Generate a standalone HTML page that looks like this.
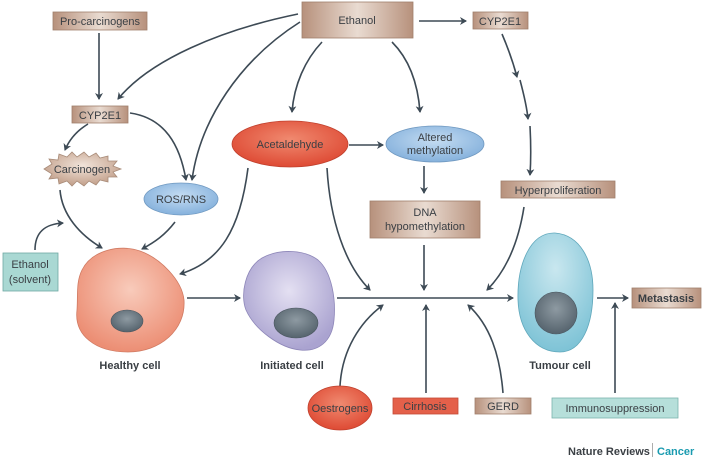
<!DOCTYPE html>
<html><head><meta charset="utf-8"><style>
html,body{margin:0;padding:0;background:#fff;}
svg{display:block;font-family:"Liberation Sans",sans-serif;}
text{fill:#3a3f44;font-size:11px;}
</style></head><body>
<svg width="705" height="462" viewBox="0 0 705 462" xmlns="http://www.w3.org/2000/svg">
<defs>
<linearGradient id="bx" x1="0" x2="1" y1="0" y2="0"><stop offset="0" stop-color="#b7917c"/><stop offset="0.5" stop-color="#e9dbd1"/><stop offset="1" stop-color="#b7917c"/></linearGradient>
<radialGradient id="red" cx="0.5" cy="0.4" r="0.6"><stop offset="0" stop-color="#f08a70"/><stop offset="1" stop-color="#de4a34"/></radialGradient>
<radialGradient id="blue" cx="0.5" cy="0.4" r="0.6"><stop offset="0" stop-color="#c4dcf2"/><stop offset="1" stop-color="#85b1dc"/></radialGradient>
<radialGradient id="pink" cx="0.5" cy="0.4" r="0.6"><stop offset="0" stop-color="#f8cbbb"/><stop offset="1" stop-color="#ec8e74"/></radialGradient>
<radialGradient id="lav" cx="0.5" cy="0.4" r="0.6"><stop offset="0" stop-color="#e4e0f2"/><stop offset="1" stop-color="#aaa3d0"/></radialGradient>
<radialGradient id="cyan" cx="0.5" cy="0.3" r="0.7"><stop offset="0" stop-color="#c9e7ef"/><stop offset="1" stop-color="#7ec3d6"/></radialGradient>
<radialGradient id="nuc" cx="0.5" cy="0.4" r="0.6"><stop offset="0" stop-color="#8e9aa2"/><stop offset="1" stop-color="#55636d"/></radialGradient>
<radialGradient id="carc" cx="0.5" cy="0.4" r="0.6"><stop offset="0" stop-color="#f1e4da"/><stop offset="1" stop-color="#c29f8a"/></radialGradient>
<marker id="a" markerWidth="8" markerHeight="8" refX="6" refY="4" orient="auto" markerUnits="userSpaceOnUse"><path d="M0,0 L7,4 L0,8 L2,4 Z" fill="#3d4a55"/></marker>
</defs>
<g fill="none" stroke="#3d4a55" stroke-width="1.6" marker-end="url(#a)">
<path d="M99,33 L99,99"/>
<path d="M298,14 C220,30 150,60 118,99"/>
<path d="M300,22 C240,60 200,120 192,180"/>
<path d="M130,113 C165,118 180,145 186,180"/>
<path d="M88,124 C78,130 70,138 65,150"/>
<path d="M60,190 C62,215 80,235 102,248"/>
<path d="M175,222 C165,235 155,242 142,249"/>
<path d="M35,250 C35,232 45,224 63,223"/>
<path d="M248,168 C240,230 220,262 180,274"/>
<path d="M327,168 C330,220 345,265 370,290"/>
<path d="M322,42 C305,60 294,85 292,112"/>
<path d="M392,42 C410,60 418,85 420,112"/>
<path d="M349,145 L383,145"/>
<path d="M419,21 L466,21"/>
<path d="M502,34 C508,48 513,62 517,77"/>
<path d="M520,80 C524,95 527,108 528,119"/>
<path d="M530,126 C531,145 531,160 530,175"/>
<path d="M424,166 L424,193"/>
<path d="M424,245 L424,290"/>
<path d="M524,207 C518,245 505,272 487,290"/>
<path d="M340,386 C342,350 360,322 383,305"/>
<path d="M426,393 L426,305"/>
<path d="M503,393 C500,355 490,325 468,305"/>
<path d="M187,298 L240,298"/>
<path d="M337,298 L513,298"/>
<path d="M597,298 L628,298"/>
<path d="M615,393 L615,303"/>
</g>
<!-- boxes -->
<g stroke="#a07f6c" stroke-width="0.8">
<rect x="53" y="12" width="94" height="18" fill="url(#bx)"/>
<rect x="302" y="2" width="111" height="36" fill="url(#bx)"/>
<rect x="473" y="12" width="55" height="17" fill="url(#bx)"/>
<rect x="72" y="106" width="56" height="17" fill="url(#bx)"/>
<rect x="370" y="201" width="110" height="37" fill="url(#bx)"/>
<rect x="501" y="181" width="114" height="17" fill="url(#bx)"/>
<rect x="632" y="288" width="69" height="20" fill="url(#bx)"/>
<rect x="475" y="398" width="56" height="16" fill="url(#bx)"/>
</g>
<rect x="393" y="398" width="65" height="16" fill="#e4604a" stroke="#c44a36" stroke-width="0.8"/>
<rect x="3" y="253" width="55" height="38" fill="#a9d8d3" stroke="#6fa9a3" stroke-width="0.8"/>
<rect x="552" y="398" width="126" height="20" fill="#b6dfda" stroke="#7bb3ad" stroke-width="0.8"/>
<!-- carcinogen star -->
<polygon fill="url(#carc)" stroke="#a88b78" stroke-width="0.8" points="44,169 52,164 49,159 58,160 59,154 67,157 72,152 77,157 84,152 89,157 96,153 100,158 108,156 108,161 117,161 113,166 121,169 113,172 117,177 108,177 108,182 100,180 96,185 89,181 84,186 77,181 72,186 67,181 59,184 58,178 49,179 52,174"/>
<ellipse cx="181" cy="199" rx="37" ry="16" fill="url(#blue)" stroke="#6f98c0" stroke-width="0.8"/>
<ellipse cx="290" cy="144" rx="58" ry="23" fill="url(#red)" stroke="#c0412e" stroke-width="0.8"/>
<ellipse cx="435" cy="144" rx="49" ry="18" fill="url(#blue)" stroke="#6f98c0" stroke-width="0.8"/>
<ellipse cx="340" cy="408" rx="32" ry="22" fill="url(#red)" stroke="#c0412e" stroke-width="0.8"/>
<!-- cells -->
<path d="M82,270 C92,250 120,244 140,251 C160,258 182,280 184,300 C186,330 160,352 128,352 C95,352 74,335 77,310 C78,295 76,282 82,270 Z" fill="url(#pink)" stroke="#d07a62" stroke-width="0.8"/>
<ellipse cx="127" cy="321" rx="16" ry="11" fill="url(#nuc)" stroke="#4a565f" stroke-width="0.6"/>
<path d="M262,258 C280,248 305,250 318,260 C332,272 336,300 334,320 C332,342 318,352 300,350 C280,348 255,330 246,310 C240,295 245,268 262,258 Z" fill="url(#lav)" stroke="#8d86b8" stroke-width="0.8"/>
<ellipse cx="296" cy="323" rx="22" ry="15" fill="url(#nuc)" stroke="#4a565f" stroke-width="0.6"/>
<path d="M555,233 C580,235 593,260 593,290 C593,325 582,352 560,352 C535,352 519,330 518,300 C517,265 530,232 555,233 Z" fill="url(#cyan)" stroke="#5fa7bb" stroke-width="0.8"/>
<circle cx="556" cy="313" r="21" fill="url(#nuc)" stroke="#4a565f" stroke-width="0.6"/>
<!-- labels -->
<g text-anchor="middle">
<text x="100" y="25">Pro-carcinogens</text>
<text x="357" y="24" font-size="12">Ethanol</text>
<text x="500" y="25">CYP2E1</text>
<text x="100" y="119">CYP2E1</text>
<text x="82" y="173">Carcinogen</text>
<text x="181" y="203">ROS/RNS</text>
<text x="290" y="148">Acetaldehyde</text>
<text x="435" y="141">Altered</text>
<text x="435" y="154">methylation</text>
<text x="425" y="216">DNA</text>
<text x="425" y="230">hypomethylation</text>
<text x="558" y="194">Hyperproliferation</text>
<text x="30" y="268">Ethanol</text>
<text x="30" y="283">(solvent)</text>
<text x="130" y="369" font-weight="bold">Healthy cell</text>
<text x="292" y="369" font-weight="bold">Initiated cell</text>
<text x="560" y="369" font-weight="bold">Tumour cell</text>
<text x="666" y="302" font-weight="bold">Metastasis</text>
<text x="340" y="412">Oestrogens</text>
<text x="425" y="410">Cirrhosis</text>
<text x="503" y="410">GERD</text>
<text x="615" y="412">Immunosuppression</text>
</g>
<text x="568" y="455" font-size="11" font-weight="bold" fill="#333">Nature Reviews</text>
<rect x="652" y="443" width="0.8" height="14" fill="#999"/>
<text x="657" y="455" font-size="11" font-weight="bold" style="fill:#1a9bb0">Cancer</text>
</svg>
</body></html>
